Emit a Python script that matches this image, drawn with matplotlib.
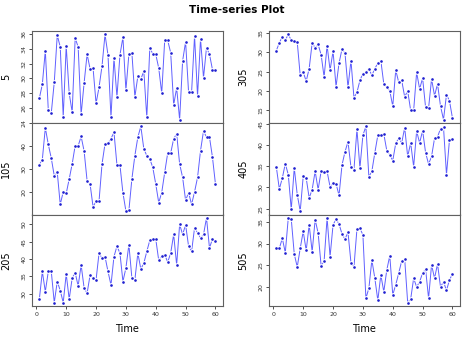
import numpy as np
import matplotlib
matplotlib.use("Agg")
import matplotlib.pyplot as plt
from matplotlib.ticker import MultipleLocator

# ---- data ----
time = np.arange(1, 61)

s5 = [27.3, 29.2, 33.8, 25.7, 25.3, 29.5, 35.9, 34.3, 24.8, 34.4,
      28.0, 25.4, 35.5, 34.3, 25.1, 29.4, 33.3, 31.3, 31.4, 26.6,
      28.8, 31.7, 36.0, 33.2, 24.7, 32.8, 27.5, 33.2, 35.6, 28.4,
      33.3, 33.5, 27.5, 30.3, 29.9, 31.0, 24.7, 34.1, 33.4, 33.3,
      31.4, 28.0, 35.2, 35.2, 33.5, 26.4, 28.7, 24.4, 32.4, 35.0,
      28.1, 28.1, 35.8, 27.6, 35.4, 30.1, 34.2, 33.3, 31.2, 31.1]

s105 = [31.8, 34.0, 47.9, 40.6, 34.6, 26.9, 28.5, 14.4, 19.9, 19.2,
        25.5, 32.1, 40.1, 40.0, 44.1, 37.7, 24.7, 23.3, 13.3, 15.9,
        15.9, 32.1, 40.9, 41.3, 43.1, 46.0, 31.6, 31.6, 19.5, 11.5,
        11.8, 25.5, 35.7, 43.8, 48.5, 38.7, 35.7, 34.3, 30.6, 23.3,
        15.2, 19.6, 28.4, 36.8, 36.8, 43.1, 45.3, 32.1, 26.2, 16.2,
        19.6, 14.4, 19.9, 26.2, 37.9, 46.5, 43.8, 43.8, 35.0, 23.3]

s205 = [28.4, 36.4, 30.6, 36.4, 36.4, 27.4, 33.5, 30.9, 27.4, 35.7,
        28.4, 34.5, 36.1, 32.2, 38.3, 31.6, 30.1, 35.4, 34.5, 34.0,
        41.7, 40.3, 40.7, 36.4, 32.5, 40.7, 43.7, 41.7, 33.5, 37.4,
        44.2, 34.5, 34.0, 41.7, 37.1, 38.8, 42.2, 45.4, 45.8, 45.8,
        39.6, 41.0, 41.3, 39.1, 41.7, 47.1, 38.3, 50.0, 47.1, 49.9,
        43.7, 42.2, 49.0, 47.6, 46.1, 47.1, 51.9, 43.2, 45.8, 45.1]

s305 = [30.5, 32.5, 34.1, 33.2, 34.7, 33.2, 32.9, 32.7, 24.0, 24.9,
        22.5, 25.8, 32.5, 31.2, 32.1, 29.4, 23.6, 31.8, 25.4, 30.3,
        21.1, 27.2, 30.9, 29.8, 20.9, 27.9, 18.2, 19.6, 22.7, 24.5,
        24.9, 25.8, 24.0, 25.8, 27.2, 27.9, 21.8, 20.9, 20.0, 16.0,
        25.4, 22.2, 22.7, 18.4, 20.0, 14.9, 14.9, 24.8, 20.5, 23.3,
        15.7, 15.5, 23.1, 18.7, 21.8, 16.0, 12.5, 19.0, 17.4, 12.9]

s405 = [34.8, 29.6, 32.2, 35.6, 33.0, 24.8, 34.6, 28.3, 24.4, 32.6,
        32.2, 27.5, 29.5, 33.8, 29.5, 33.8, 33.6, 33.8, 30.1, 31.0,
        30.9, 28.1, 35.3, 38.4, 40.8, 34.8, 34.2, 43.7, 34.6, 42.3,
        44.4, 32.5, 33.8, 38.2, 42.3, 42.3, 42.6, 38.7, 37.7, 36.3,
        40.4, 41.6, 40.5, 44.1, 37.3, 40.5, 34.9, 43.3, 40.5, 43.4,
        38.2, 35.5, 37.3, 41.6, 41.9, 43.9, 44.2, 33.0, 41.2, 41.4]

s505 = [28.9, 28.9, 31.2, 27.9, 35.9, 35.6, 27.6, 24.6, 28.9, 32.8,
        28.4, 34.3, 28.1, 35.5, 32.4, 24.9, 25.9, 35.9, 27.0, 34.3,
        35.6, 34.5, 32.2, 31.0, 32.6, 25.6, 24.6, 33.3, 33.5, 32.0,
        17.4, 19.7, 26.2, 22.0, 16.9, 22.8, 18.9, 23.9, 27.2, 18.2,
        20.5, 23.2, 26.0, 26.4, 16.4, 17.2, 22.0, 20.0, 21.2, 23.2,
        24.1, 17.4, 25.1, 22.0, 25.3, 20.0, 21.2, 19.2, 21.6, 23.0]

names = ["5", "105", "205", "305", "405", "505"]
series = [s5, s105, s205, s305, s405, s505]
ysteps = [2, 10, 5, 5, 5, 5]

W, H = 474, 345
fig = plt.figure(figsize=(W / 100, H / 100), dpi=100)

col_x = [32.3, 269.3]
col_w = 190.2
row_edges = [31, 123, 214.5, 306]

frame_col = "#606060"
line_col = "#6060ff"

for i, (name, vals, step) in enumerate(zip(names, series, ysteps)):
    col, row = divmod(i, 3)
    top, bot = row_edges[row], row_edges[row + 1]
    ax = fig.add_axes([col_x[col] / W, 1 - bot / H, col_w / W, (bot - top) / H])

    # R type="b": line segments with small gaps around the points
    ax.plot(time, vals, color=line_col, lw=0.7, zorder=2)
    ax.plot(time, vals, ls="none", marker="o", ms=2.4, mfc="white",
            mec="white", zorder=3)
    ax.plot(time, vals, ls="none", marker=".", ms=1.8, color="#2020d0",
            zorder=4)
    ax.margins(x=0.04, y=0.04)

    ax.yaxis.set_major_locator(MultipleLocator(step))
    ax.tick_params(axis="y", labelsize=4.5, length=2.5, width=0.6,
                   colors="#333333", pad=1.5)
    for lab in ax.get_yticklabels():
        lab.set_rotation(90)
        lab.set_va("center")

    ax.xaxis.set_major_locator(MultipleLocator(10))
    if row == 2:
        ax.tick_params(axis="x", labelsize=4.5, length=2.5, width=0.6,
                       colors="#333333", pad=2)
        ax.set_xlabel("Time", fontsize=7, labelpad=5)
    else:
        ax.tick_params(axis="x", bottom=False, labelbottom=False)

    for sp in ax.spines.values():
        sp.set_color(frame_col)
        sp.set_linewidth(0.8)

    ax.set_ylabel(name, fontsize=7)
    ax.yaxis.set_label_coords(-0.11, 0.5)

fig.suptitle("Time-series Plot", fontsize=7.5, fontweight="bold", y=0.985)

fig.savefig("out.png", dpi=100)
